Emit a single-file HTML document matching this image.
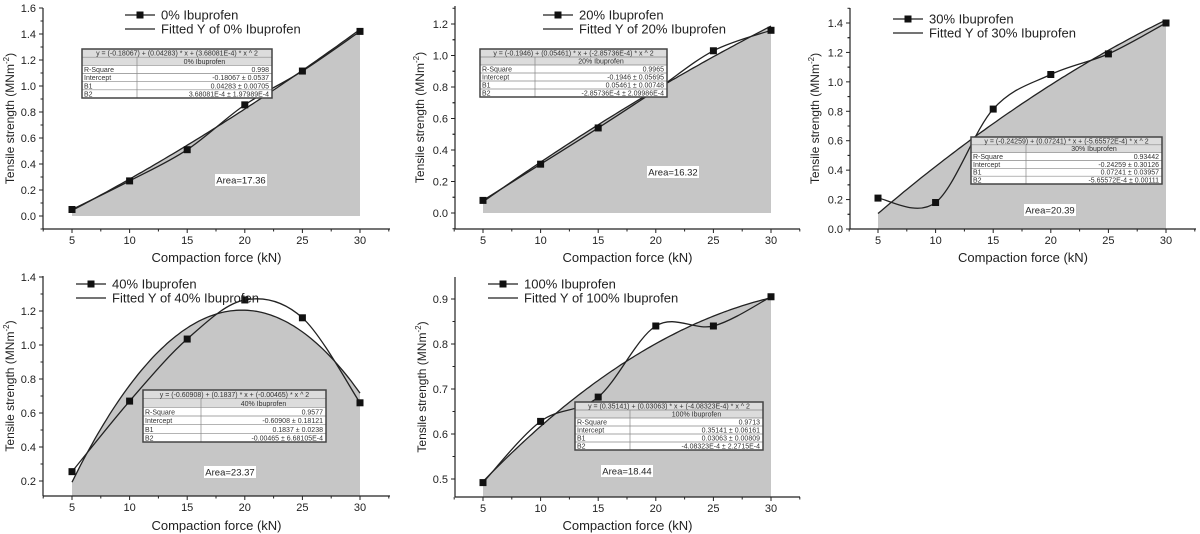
<!DOCTYPE html>
<html><head><meta charset="utf-8"><style>
html,body{margin:0;padding:0;background:#fff;}
svg{display:block;font-family:"Liberation Sans",Arial,sans-serif;}
</style></head><body>
<svg id="fig" width="1200" height="534" viewBox="0 0 1200 534" xmlns="http://www.w3.org/2000/svg"></svg>
<script>
// ---- data ----
const forces = [5, 10, 15, 20, 25, 30];
const labels = ["0%", "20%", "30%", "40%", "100%"];
const ts0 = [0.05, 0.27, 0.51, 0.855, 1.115, 1.42];
const ts20 = [0.08, 0.31, 0.54, 0.78, 1.03, 1.16];
const ts30 = [0.21, 0.18, 0.815, 1.05, 1.19, 1.40];
const ts40 = [0.255, 0.67, 1.035, 1.265, 1.16, 0.66];
const ts100 = [0.492, 0.628, 0.682, 0.84, 0.84, 0.905];
const fitA = [-0.18067, -0.1946, -0.24259, -0.60908, 0.35141];
const fitB1 = [0.04283, 0.05461, 0.07241, 0.1837, 0.03063];
const fitB2 = [3.68081e-4, -2.85736e-4, -5.65572e-4, -0.00465, -4.08323e-4];
const fitEq = ["y =  (-0.18067) + (0.04283) * x + (3.68081E-4) * x ^ 2",
  "y =  (-0.1946) + (0.05461) * x + (-2.85736E-4) * x ^ 2",
  "y =  (-0.24259) + (0.07241) * x + (-5.65572E-4) * x ^ 2",
  "y =  (-0.60908) + (0.1837) * x + (-0.00465) * x ^ 2",
  "y =  (0.35141) + (0.03063) * x + (-4.08323E-4) * x ^ 2"];
const rSquare = ["0.998", "0.9965", "0.93442", "0.9577", "0.9713"];
const interceptTxt = ["-0.18067 ± 0.0537", "-0.1946 ± 0.05695", "-0.24259 ± 0.30126", "-0.60908 ± 0.18121", "0.35141 ± 0.06161"];
const b1Txt = ["0.04283 ± 0.00705", "0.05461 ± 0.00748", "0.07241 ± 0.03957", "0.1837 ± 0.0238", "0.03063 ± 0.00809"];
const b2Txt = ["3.68081E-4 ± 1.97989E-4", "-2.85736E-4 ± 2.09986E-4", "-5.65572E-4 ± 0.00111", "-0.00465 ± 6.68105E-4", "-4.08323E-4 ± 2.2715E-4"];
const areaTxt = ["Area=17.36", "Area=16.32", "Area=20.39", "Area=23.37", "Area=18.44"];
const yTicks0 = [0, 0.2, 0.4, 0.6, 0.8, 1.0, 1.2, 1.4, 1.6];
const yTicks20 = [0, 0.2, 0.4, 0.6, 0.8, 1.0, 1.2];
const yTicks30 = [0, 0.2, 0.4, 0.6, 0.8, 1.0, 1.2, 1.4];
const yTicks40 = [0.2, 0.4, 0.6, 0.8, 1.0, 1.2, 1.4];
const yTicks100 = [0.5, 0.6, 0.7, 0.8, 0.9];
const xTicks = [5, 10, 15, 20, 25, 30];

// ---- layout (pixel geometry) ----
const panels = [
 {d:ts0, yt:yTicks0, ax:43, x5:72, x30:360, xr:390, yv0:0, yp0:216, yv1:1.6, yp1:8, ybot:229, ytop:8, fillBase:0,
  tb:[82,49,272,98,137], area:[241,180], leg:[125,15], ytx:10, xty:262},
 {d:ts20, yt:yTicks20, ax:455, x5:483, x30:771, xr:800, yv0:0, yp0:213, yv1:1.2, yp1:24, ybot:229, ytop:6, fillBase:0,
  tb:[480,49,667,97,535], area:[673,172], leg:[543,15], ytx:420, xty:262},
 {d:ts30, yt:yTicks30, ax:850, x5:878, x30:1166, xr:1196, yv0:0, yp0:229, yv1:1.4, yp1:23, ybot:229, ytop:8, fillBase:0,
  tb:[971,137,1162,184,1026], area:[1050,210], leg:[893,19], ytx:815, xty:262},
 {d:ts40, yt:yTicks40, ax:43, x5:72, x30:360, xr:390, yv0:0.2, yp0:481, yv1:1.4, yp1:277, ybot:496, ytop:276, fillBase:null,
  tb:[143,390,326,442,201], area:[230,472], leg:[76,284], ytx:10, xty:530},
 {d:ts100, yt:yTicks100, ax:455, x5:483, x30:771, xr:800, yv0:0.5, yp0:479, yv1:0.9, yp1:299, ybot:497, ytop:277, fillBase:null,
  tb:[575,402,763,450,630], area:[627,471], leg:[488,284], ytx:422, xty:530}
];

const NS = "http://www.w3.org/2000/svg";
const svg = document.getElementById("fig");
function mk(tag, attrs, parent){
  const e = document.createElementNS(NS, tag);
  for (const k in attrs) e.setAttribute(k, attrs[k]);
  (parent||svg).appendChild(e);
  return e;
}

panels.forEach((p, i) => {
  const g = mk("g", {});
  
  
  const sx = v => p.x5 + (v - 5) * (p.x30 - p.x5) / 25;
  const sy = v => p.yp0 + (v - p.yv0) * (p.yp1 - p.yp0) / (p.yv1 - p.yv0);
  const fit = x => fitA[i] + fitB1[i] * x + fitB2[i] * x * x;

  const base = p.fillBase === null ? p.ybot : sy(p.fillBase);
  let pts = [];
  for (let x = 5; x <= 30.0001; x += 0.25) pts.push(sx(x).toFixed(1) + "," + sy(fit(x)).toFixed(1));
  const area = mk("polygon", {points: sx(5)+","+base+" "+pts.join(" ")+" "+sx(30)+","+base, fill:"#c6c6c6"}, g);
  
  

  const fl = mk("polyline", {points: pts.join(" "), fill:"none", stroke:"#222", "stroke-width":1.3}, g);
  
  

  const P = forces.map((f, k) => [sx(f), sy(p.d[k])]);
  let dstr = "M" + P[0][0] + "," + P[0][1];
  for (let k = 0; k < P.length - 1; k++) {
    const p0 = P[Math.max(k-1,0)], p1 = P[k], p2 = P[k+1], p3 = P[Math.min(k+2,P.length-1)];
    const c1 = [p1[0] + (p2[0]-p0[0])/6, p1[1] + (p2[1]-p0[1])/6];
    const c2 = [p2[0] - (p3[0]-p1[0])/6, p2[1] - (p3[1]-p1[1])/6];
    dstr += " C" + c1.join(",") + " " + c2.join(",") + " " + p2.join(",");
  }
  const dl = mk("path", {d:dstr, fill:"none", stroke:"#222", "stroke-width":1.3}, g);
  
  
  P.forEach((q, k) => {
    const m = mk("rect", {x:q[0]-3.5, y:q[1]-3.5, width:7, height:7, fill:"#111"}, g);
    
    
  });

  const ya = mk("line", {x1:p.ax, y1:p.ytop, x2:p.ax, y2:p.ybot, stroke:"#222", "stroke-width":1.2}, g);
  
  
  const xa = mk("line", {x1:p.ax, y1:p.ybot, x2:p.xr, y2:p.ybot, stroke:"#222", "stroke-width":1.2}, g);
  
  

  xTicks.forEach(t => {
    mk("line", {x1:sx(t), y1:p.ybot, x2:sx(t), y2:p.ybot+4, stroke:"#222"}, g);
    mk("line", {x1:sx(t-2.5), y1:p.ybot, x2:sx(t-2.5), y2:p.ybot+2.5, stroke:"#222"}, g);
    const tl = mk("text", {x:sx(t), y:p.ybot+15, "font-size":11, "text-anchor":"middle", fill:"#222"}, g);
    tl.textContent = t;
    
    
  });
  mk("line", {x1:sx(32.5), y1:p.ybot, x2:sx(32.5), y2:p.ybot+2.5, stroke:"#222"}, g);
  const step = p.yt[1] - p.yt[0];
  p.yt.forEach(t => {
    mk("line", {x1:p.ax-4, y1:sy(t), x2:p.ax, y2:sy(t), stroke:"#222"}, g);
    const mv = sy(t + step/2);
    if (mv >= p.ytop) mk("line", {x1:p.ax-2.5, y1:mv, x2:p.ax, y2:mv, stroke:"#222"}, g);
    const mv2 = sy(t - step/2);
    if (mv2 <= p.ybot) mk("line", {x1:p.ax-2.5, y1:mv2, x2:p.ax, y2:mv2, stroke:"#222"}, g);
    const tl = mk("text", {x:p.ax-7, y:sy(t)+4, "font-size":11, "text-anchor":"end", fill:"#222"}, g);
    tl.textContent = t.toFixed(1);
    
    
  });

  const xt = mk("text", {x:(p.ax+p.xr)/2, y:p.xty, "font-size":13, "text-anchor":"middle", fill:"#222"}, g);
  xt.textContent = "Compaction force (kN)";
  
  
  const ymid = (p.ytop + p.ybot) / 2;
  const yt = mk("text", {x:p.ytx, y:ymid, "font-size":12, "text-anchor":"middle", fill:"#222", transform:"rotate(-90 "+p.ytx+" "+ymid+")", dy:"4"}, g);
  yt.innerHTML = 'Tensile strength (MNm<tspan dy="-5" font-size="8">-2</tspan><tspan dy="5">)</tspan>';
  
  

  const lg = mk("g", {}, g);
  
  
  const [lx, ly] = p.leg;
  mk("line", {x1:lx, y1:ly, x2:lx+30, y2:ly, stroke:"#222", "stroke-width":1.3}, lg);
  mk("rect", {x:lx+11.5, y:ly-3.5, width:7, height:7, fill:"#111"}, lg);
  mk("line", {x1:lx, y1:ly+14, x2:lx+30, y2:ly+14, stroke:"#222", "stroke-width":1.3}, lg);
  const l1 = mk("text", {x:lx+36, y:ly+4.5, "font-size":13, fill:"#222"}, lg);
  l1.textContent = labels[i] + " Ibuprofen";
  const l2 = mk("text", {x:lx+36, y:ly+18.5, "font-size":13, fill:"#222"}, lg);
  l2.textContent = "Fitted Y of " + labels[i] + " Ibuprofen";

  const [tx0, ty0, tx1, ty1, tsplit] = p.tb;
  const tg = mk("g", {}, g);
  
  
  const rh = (ty1 - ty0) / 6;
  mk("rect", {x:tx0, y:ty0, width:tx1-tx0, height:ty1-ty0, fill:"#fff"}, tg);
  mk("rect", {x:tx0, y:ty0, width:tx1-tx0, height:rh*2, fill:"#dcdcdc"}, tg);
  for (let r = 1; r < 6; r++) mk("line", {x1:tx0, y1:ty0+r*rh, x2:tx1, y2:ty0+r*rh, stroke:"#888", "stroke-width":0.7}, tg);
  mk("line", {x1:tsplit, y1:ty0+rh, x2:tsplit, y2:ty1, stroke:"#888", "stroke-width":0.7}, tg);
  mk("rect", {x:tx0, y:ty0, width:tx1-tx0, height:ty1-ty0, fill:"none", stroke:"#444", "stroke-width":1.5}, tg);
  const fs = 7;
  const e = mk("text", {x:(tx0+tx1)/2, y:ty0+rh-1.5, "font-size":fs, "text-anchor":"middle", fill:"#333"}, tg);
  e.textContent = fitEq[i];
  const h = mk("text", {x:(tsplit+tx1)/2, y:ty0+2*rh-1.5, "font-size":fs, "text-anchor":"middle", fill:"#333"}, tg);
  h.textContent = labels[i] + " Ibuprofen";
  const rowsL = ["R-Square", "Intercept", "B1", "B2"];
  const rowsV = [rSquare[i], interceptTxt[i], b1Txt[i], b2Txt[i]];
  rowsL.forEach((lab, r) => {
    const a = mk("text", {x:tx0+2, y:ty0+(r+3)*rh-1.5, "font-size":fs, fill:"#333"}, tg);
    a.textContent = lab;
    const b = mk("text", {x:tx1-3, y:ty0+(r+3)*rh-1.5, "font-size":fs, "text-anchor":"end", fill:"#333"}, tg);
    b.textContent = rowsV[r];
  });

  const [axx, ayy] = p.area;
  mk("rect", {x:axx-26, y:ayy-6, width:52, height:12, fill:"#fff"}, g);
  const at = mk("text", {x:axx, y:ayy+3.5, "font-size":9.5, "text-anchor":"middle", fill:"#222"}, g);
  at.textContent = areaTxt[i];
  
  
});
</script>
</body></html>
